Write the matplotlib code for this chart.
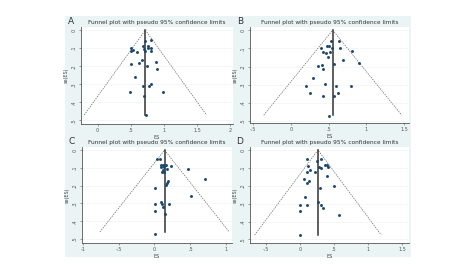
import matplotlib
matplotlib.use('Agg')
import matplotlib.pyplot as plt
from matplotlib.patches import Rectangle
import numpy as np

# study estimates (ES) and standard errors
a_es = [.81, .72, .685, .76, .765, .81, .705, .80, .72, .505, .535, .51, .595,
        .675, .63, .505, .75, .885, .89, .565, .80, .78, .69, .49, .99, .70, .735]
a_se = [.055, .061, .086, .088, .097, .097, .105, .114, .116, .101, .110, .116, .123,
        .164, .184, .189, .197, .178, .213, .259, .296, .309, .309, .344, .344, .364, .471]

b_es = [.64, .535, .48, .50, .545, .40, .65, .81, .425, .46, .52, .485, .685, .57,
        .41, .355, .43, .90, .29, .45, .20, .60, .80, .25, .625, .43, .57, .50]
b_se = [.059, .061, .088, .088, .097, .101, .101, .114, .119, .125, .119, .147, .165, .1875,
        .191, .199, .213, .180, .261, .296, .309, .309, .309, .344, .344, .364, .364, .471]

c_es = [.03, .08, .093, .125, .16, .227, .093, .139, .171, .125, .10, .139, .47, .71,
        .19, .18, .167, .014, .505, .093, .111, .208, .014, .125, .014, .148, .014]
c_se = [.052, .052, .084, .084, .084, .090, .094, .097, .109, .112, .122, .122, .109, .163,
        .174, .184, .195, .212, .258, .29, .303, .303, .305, .322, .341, .361, .472]

d_es = [.10, .25, .31, .36, .40, .415, .12, .28, .30, .14, .097, .21, .40, .058,
        .126, .106, .49, .285, .072, 0, .10, .266, .304, .338, 0, .575, 0]
d_se = [.052, .062, .052, .084, .084, .093, .090, .097, .103, .112, .123, .123, .144, .164,
        .175, .183, .20, .211, .261, .308, .308, .293, .308, .325, .343, .366, .476]

# pooled estimate and the largest standard error (funnel apex and depth)
pooled = [.72, .553, .14, .26]
se_max = [.47, .467, .46, .475]

panel_names = ['A', 'B', 'C', 'D']
x_ticks = [[0, .5, 1, 1.5, 2], [-.5, 0, .5, 1, 1.5],
           [-1, -.5, 0, .5, 1], [-.5, 0, .5, 1, 1.5]]
x_tick_labels = [['0', '.5', '1', '1.5', '2'], ['-.5', '0', '.5', '1', '1.5'],
                 ['-1', '-.5', '0', '.5', '1'], ['-.5', '0', '.5', '1', '1.5']]
y_ticks = [0, .1, .2, .3, .4, .5]
y_tick_labels = ['0', '.1', '.2', '.3', '.4', '.5']

W, H = 474, 269
fig = plt.figure(figsize=(W / 100, H / 100), dpi=100)
fig.patch.set_facecolor('white')

# light bluish graph region behind the four panels
fig.patches.append(Rectangle((65 / W, 1 - 257 / H), (411 - 65) / W, (257 - 16) / H,
                             transform=fig.transFigure, facecolor='#eaf4f4',
                             edgecolor='none', zorder=-5))

# pixel boxes of the plot regions: left, top, right, bottom
boxes = [(81, 27, 233, 124), (250, 27, 409, 123), (82, 147, 232, 243), (250, 147, 409, 243)]
x_lims = [(-.25, 2.04), (-.544, 1.565), (-1.01, 1.08), (-.74, 1.6)]
y_lims = [(.52, -.017), (.51, -.017), (.522, -.017), (.52, -.017)]
all_es = [a_es, b_es, c_es, d_es]
all_se = [a_se, b_se, c_se, d_se]

navy = '#1a476f'
for i in range(4):
    l, t, r, b = boxes[i]
    ax = fig.add_axes([l / W, 1 - b / H, (r - l) / W, (b - t) / H])
    ax.set_zorder(2)
    ax.set_facecolor('white')
    for s in ['top', 'right']:
        ax.spines[s].set_visible(False)
    for s in ['left', 'bottom']:
        ax.spines[s].set_color('#555555')
        ax.spines[s].set_linewidth(0.6)

    th, sm = pooled[i], se_max[i]
    ax.plot([th - 1.96 * sm, th, th + 1.96 * sm], [sm, 0, sm],
            ls=(0, (2, 1.5)), color='#666666', lw=0.5)
    ax.plot([th, th], [0, sm], color='#333333', lw=1.1)
    ax.scatter(all_es[i], all_se[i], s=4.5, color=navy, zorder=3, linewidths=0)

    ax.set_xlim(*x_lims[i])
    ax.set_ylim(*y_lims[i])
    ax.set_xticks(x_ticks[i])
    ax.set_xticklabels(x_tick_labels[i])
    ax.set_yticks(y_ticks)
    ax.set_yticklabels(y_tick_labels, rotation=90, va='center')
    ax.tick_params(labelsize=3.5, length=1.5, width=0.4, pad=1.5, colors='#555555')
    ax.grid(axis='y', color='#edf2f2', lw=0.4)
    ax.set_axisbelow(True)
    ax.set_xlabel('ES', fontsize=3.5, labelpad=1, color='#444444')
    ax.set_ylabel('se(ES)', fontsize=3.5, labelpad=2, color='#444444')
    ax.set_title('Funnel plot with pseudo 95% confidence limits', fontsize=4.2,
                 pad=2.5, color='#333333')

    fig.text((l - 10) / W, 1 - (t - 5) / H, panel_names[i], fontsize=6.5,
             color='#333333', ha='center', va='center', zorder=3)

fig.savefig('out.png', dpi=100, facecolor='white')
